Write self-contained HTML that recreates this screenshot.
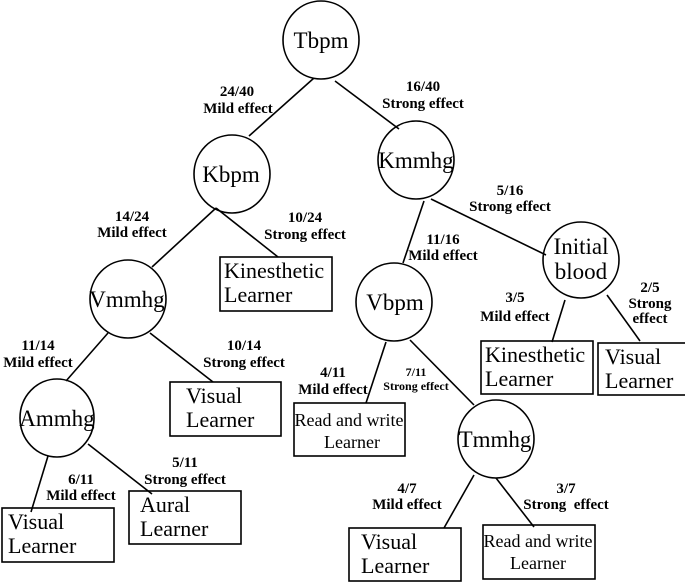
<!DOCTYPE html>
<html><head><meta charset="utf-8"><style>
html,body{margin:0;padding:0;background:#fff;width:685px;height:583px;overflow:hidden}
svg{display:block}
.n{font-family:"Liberation Serif",serif;font-size:23px;fill:#000}
.b{font-family:"Liberation Serif",serif;font-size:22px;fill:#000}
.r{font-family:"Liberation Serif",serif;font-size:18px;fill:#000}
.l{font-family:"Liberation Serif",serif;font-size:15px;font-weight:bold;fill:#000;text-anchor:middle}
.s{font-family:"Liberation Serif",serif;font-size:12px;font-weight:bold;fill:#000;text-anchor:middle}
</style></head><body>
<svg width="685" height="583" viewBox="0 0 685 583" xmlns="http://www.w3.org/2000/svg">
<g stroke="#000" stroke-width="1.6" fill="none">
<line x1="314" y1="78" x2="249" y2="136"/>
<line x1="335" y1="81" x2="399" y2="129"/>
<line x1="216" y1="208" x2="152" y2="267"/>
<line x1="216" y1="208" x2="278" y2="257"/>
<line x1="424" y1="201" x2="403" y2="263"/>
<line x1="431" y1="199" x2="546" y2="255"/>
<line x1="108" y1="333" x2="66" y2="381"/>
<line x1="150" y1="333" x2="213" y2="382"/>
<line x1="48" y1="456" x2="31" y2="512"/>
<line x1="88" y1="444" x2="152" y2="494"/>
<line x1="386" y1="342" x2="366" y2="403"/>
<line x1="410" y1="340" x2="474" y2="405"/>
<line x1="565" y1="300" x2="552" y2="342"/>
<line x1="607" y1="295" x2="640" y2="341"/>
<line x1="474" y1="475" x2="444" y2="528"/>
<line x1="496" y1="478" x2="534" y2="527"/>
<ellipse cx="321" cy="40" rx="38" ry="39"/>
<ellipse cx="232" cy="174" rx="38" ry="39"/>
<ellipse cx="416" cy="160" rx="38" ry="39"/>
<ellipse cx="581" cy="260" rx="38" ry="38"/>
<ellipse cx="128" cy="299" rx="38" ry="39"/>
<ellipse cx="394" cy="302" rx="38" ry="39"/>
<ellipse cx="57" cy="418" rx="37" ry="39"/>
<ellipse cx="496" cy="439" rx="38" ry="39"/>
<rect x="220" y="257" width="112" height="54"/>
<rect x="170" y="382" width="111" height="54"/>
<rect x="2" y="508" width="112" height="54"/>
<rect x="129" y="491" width="112" height="53"/>
<rect x="294" y="403" width="111" height="53"/>
<rect x="481" y="341" width="112" height="53"/>
<rect x="598" y="343" width="90" height="52"/>
<rect x="349" y="528" width="112" height="53"/>
<rect x="483" y="525" width="112" height="54"/>
</g>
<text class="n" x="321" y="48" text-anchor="middle">Tbpm</text>
<text class="n" x="231" y="182" text-anchor="middle">Kbpm</text>
<text class="n" x="416" y="168" text-anchor="middle">Kmmhg</text>
<text class="n" x="581" y="254" text-anchor="middle">Initial</text>
<text class="n" x="581" y="279" text-anchor="middle">blood</text>
<text class="n" x="127" y="307" text-anchor="middle">Vmmhg</text>
<text class="n" x="395" y="310" text-anchor="middle">Vbpm</text>
<text class="n" x="57" y="426" text-anchor="middle">Ammhg</text>
<text class="n" x="495" y="447" text-anchor="middle">Tmmhg</text>
<text class="b" x="224" y="278">Kinesthetic</text><text class="b" x="224" y="302">Learner</text>
<text class="b" x="186" y="403">Visual</text><text class="b" x="186" y="427">Learner</text>
<text class="b" x="8" y="529">Visual</text><text class="b" x="8" y="553">Learner</text>
<text class="b" x="140" y="512">Aural</text><text class="b" x="140" y="536">Learner</text>
<text class="r" x="349" y="426" text-anchor="middle">Read and write</text><text class="r" x="352" y="448" text-anchor="middle">Learner</text>
<text class="b" x="485" y="362">Kinesthetic</text><text class="b" x="485" y="386">Learner</text>
<text class="b" x="605" y="364">Visual</text><text class="b" x="605" y="388">Learner</text>
<text class="b" x="361" y="549">Visual</text><text class="b" x="361" y="573">Learner</text>
<text class="r" x="538" y="547" text-anchor="middle">Read and write</text><text class="r" x="538" y="569" text-anchor="middle">Learner</text>
<text class="l" x="237" y="96">24/40</text><text class="l" x="238" y="113">Mild effect</text>
<text class="l" x="423" y="91">16/40</text><text class="l" x="423" y="108">Strong effect</text>
<text class="l" x="132" y="221">14/24</text><text class="l" x="132" y="237">Mild effect</text>
<text class="l" x="305" y="222">10/24</text><text class="l" x="305" y="239">Strong effect</text>
<text class="l" x="510" y="195">5/16</text><text class="l" x="510" y="211">Strong effect</text>
<text class="l" x="443" y="244">11/16</text><text class="l" x="443" y="260">Mild effect</text>
<text class="l" x="650" y="292">2/5</text><text class="l" x="650" y="308">Strong</text><text class="l" x="650" y="323">effect</text>
<text class="l" x="515" y="302">3/5</text><text class="l" x="515" y="321">Mild effect</text>
<text class="l" x="38" y="350">11/14</text><text class="l" x="38" y="367">Mild effect</text>
<text class="l" x="244" y="350">10/14</text><text class="l" x="244" y="367">Strong effect</text>
<text class="l" x="333" y="377">4/11</text><text class="l" x="333" y="394">Mild effect</text>
<text class="s" x="416" y="376">7/11</text><text class="s" x="416" y="390">Strong effect</text>
<text class="l" x="81" y="484">6/11</text><text class="l" x="81" y="500">Mild effect</text>
<text class="l" x="185" y="467">5/11</text><text class="l" x="185" y="484">Strong effect</text>
<text class="l" x="407" y="493">4/7</text><text class="l" x="407" y="509">Mild effect</text>
<text class="l" x="566" y="493">3/7</text><text class="l" x="566" y="509" xml:space="preserve">Strong  effect</text>
</svg>
</body></html>
